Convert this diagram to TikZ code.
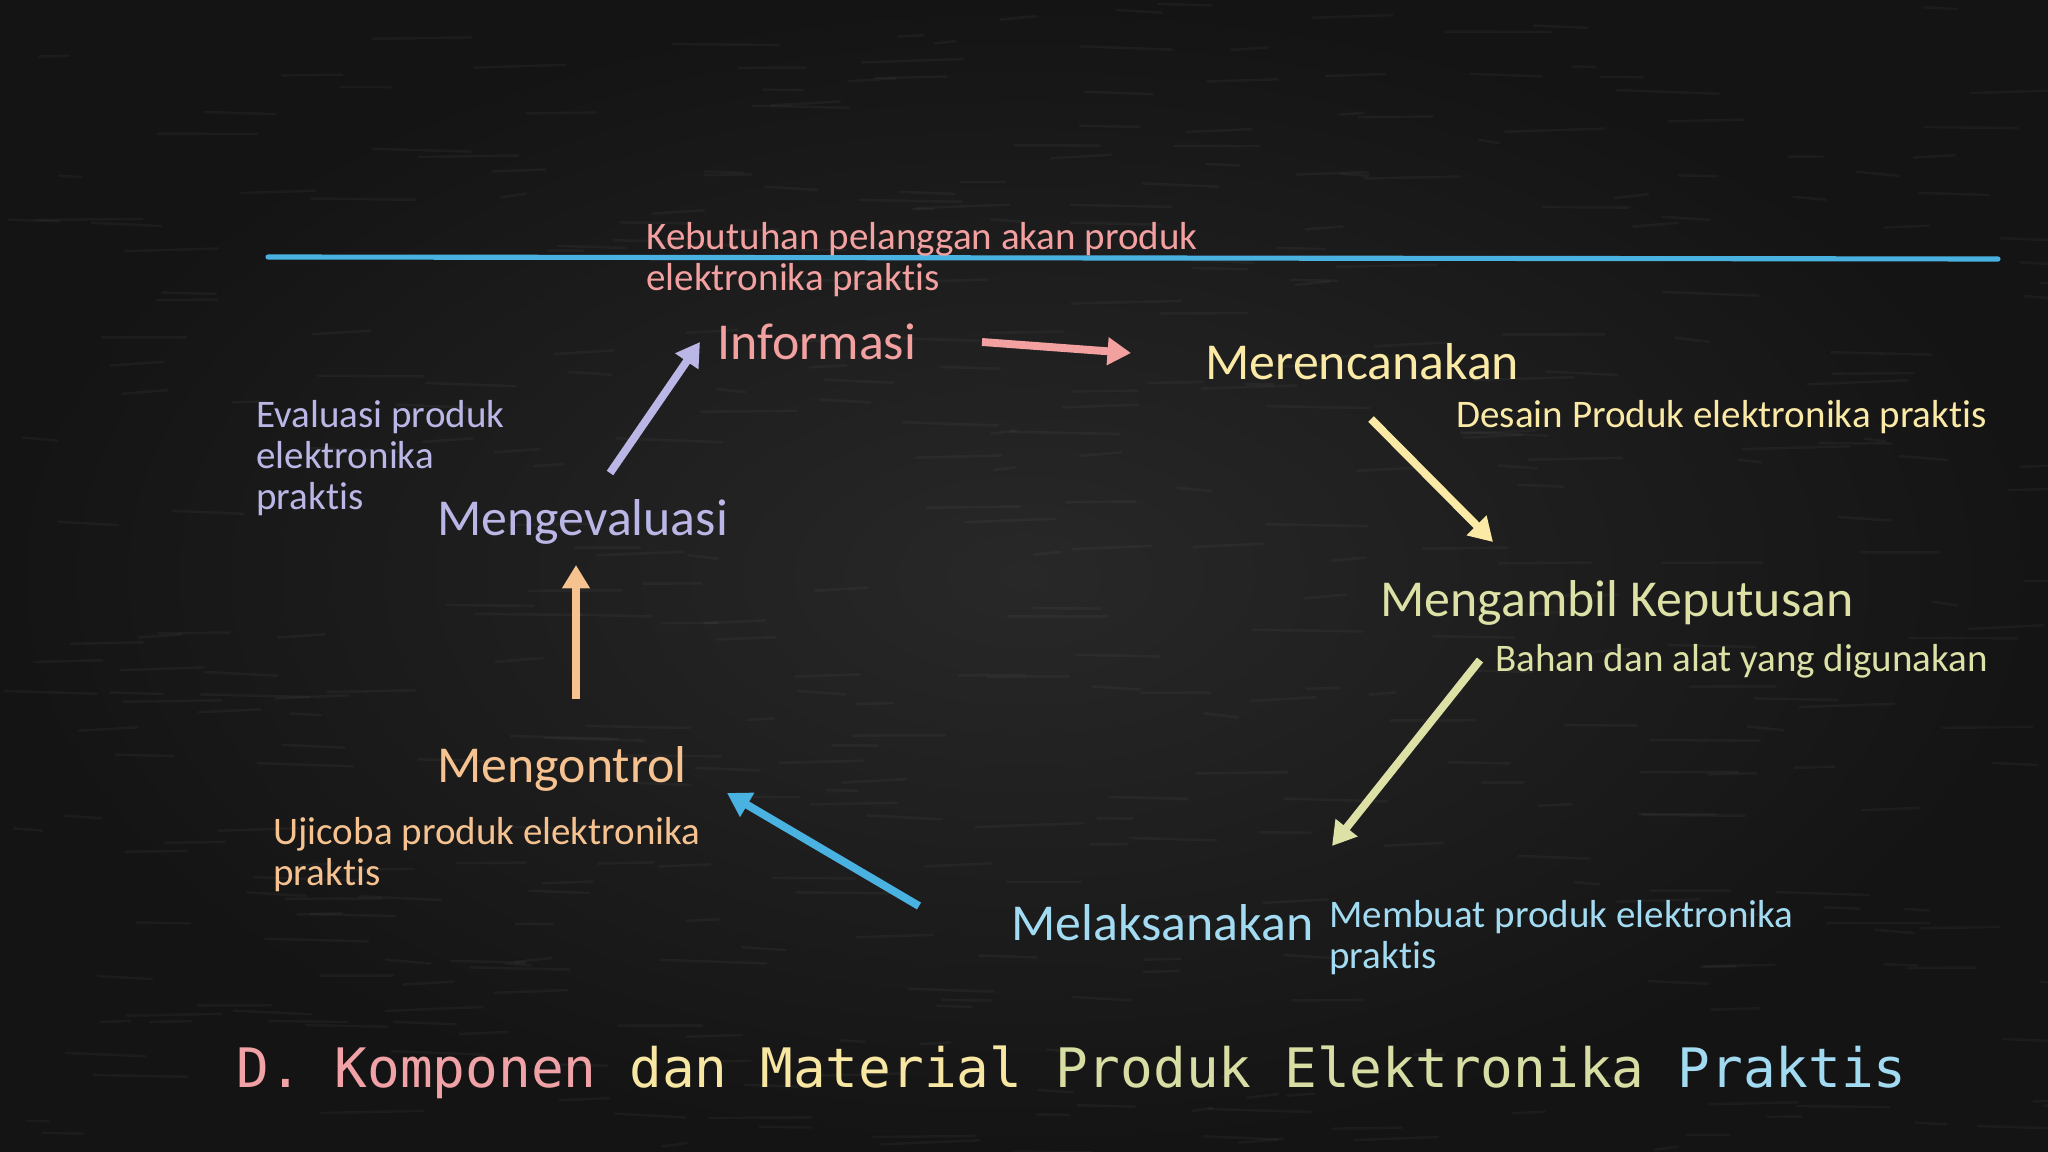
\documentclass[tikz,border=0pt]{standalone}
\usepackage{fontspec}
\setmainfont{Carlito}[Ligatures=NoCommon]
\newfontfamily\titlefont{DejaVu Sans Mono}
\usetikzlibrary{arrows.meta}
\definecolor{bgin}{HTML}{282828}
\definecolor{bgout}{HTML}{141414}
\definecolor{chalkblue}{HTML}{4AB2E0}
\definecolor{cpink}{HTML}{F2A0A0}
\definecolor{cyellow}{HTML}{FBEAA6}
\definecolor{cgreen}{HTML}{DDE1A6}
\definecolor{cblue}{HTML}{A3DCF2}
\definecolor{cpeach}{HTML}{F6C290}
\definecolor{clav}{HTML}{BAB6E6}
\definecolor{tpink}{HTML}{F0A2A6}
\definecolor{tyellow}{HTML}{F8E7A2}
\definecolor{tgreen}{HTML}{D8DDA4}
\definecolor{tblue}{HTML}{A2DAF2}
\tikzset{
  big/.style={font=\fontsize{24.3}{29}\selectfont, inner sep=0pt, anchor=west},
  small/.style={font=\fontsize{18.3}{19.2}\selectfont, inner sep=0pt, anchor=west, align=left},
  flow/.style={line width=3.7pt, -{Triangle[length=11pt,width=12.5pt]}},
  chalk/.style={white, opacity=0.035, line width=1.2pt, line cap=round},
}
\begin{document}
\begin{tikzpicture}[x=0.46875pt,y=-0.46875pt]
\useasboundingbox (0,0) rectangle (2048,1152);
\shade[inner color=bgin, outer color=bgout] (0,0) rectangle (2048,1152);
% chalk texture
\pgfmathsetseed{7}
\foreach \i in {1,...,420} {
  \pgfmathsetmacro{\xx}{rnd*2048}
  \pgfmathsetmacro{\yy}{rnd*1152}
  \pgfmathsetmacro{\ll}{20+rnd*90}
  \pgfmathsetmacro{\dd}{(rnd-0.5)*8}
  \draw[chalk] (\xx,\yy) -- ++(\ll,\dd);
}
% chalk line
\draw[chalkblue, line width=2.4pt, line cap=round] (268,257) -- (1998,259);

% texts
\node[small, text=cpink, anchor=north west] (keb) at (646,222) {Kebutuhan pelanggan akan produk\\elektronika praktis};
\node[big, text=cpink] (info) at (717,342) {Informasi};
\node[big, text=cyellow] (mer) at (1205,362) {Merencanakan};
\node[small, text=cyellow] (desain) at (1456,417) {Desain Produk elektronika praktis};
\node[big, text=cgreen] (ambil) at (1380,603) {Mengambil Keputusan};
\node[small, text=cgreen] (bahan) at (1495,661) {Bahan dan alat yang digunakan};
\node[big, text=cblue] (laks) at (1011,923) {Melaksanakan};
\node[small, text=cblue] (buat) at (1329,938) {Membuat produk elektronika\\praktis};
\node[big, text=cpeach] (kontrol) at (437,769) {Mengontrol};
\node[small, text=cpeach] (uji) at (273,855) {Ujicoba produk elektronika\\praktis};
\node[big, text=clav] (eval) at (437,522) {Mengevaluasi};
\node[small, text=clav] (evtxt) at (256,458) {Evaluasi produk\\elektronika\\praktis};

% arrow endpoints
\coordinate (a1s) at (982,342);  \coordinate (a1e) at (1131,353);
\coordinate (a2s) at (1371,419); \coordinate (a2e) at (1493,542);
\coordinate (a3s) at (1480,660); \coordinate (a3e) at (1332,846);
\coordinate (a4s) at (919,906);  \coordinate (a4e) at (727,793);
\coordinate (a5s) at (576,699);  \coordinate (a5e) at (576,565);
\coordinate (a6s) at (610,473);  \coordinate (a6e) at (700,342);

\draw[flow, cpink] (a1s) -- (a1e);
\draw[flow, cyellow] (a2s) -- (a2e);
\draw[flow, cgreen] (a3s) -- (a3e);
\draw[flow, chalkblue] (a4s) -- (a4e);
\draw[flow, cpeach] (a5s) -- (a5e);
\draw[flow, clav] (a6s) -- (a6e);

% title
\node[inner sep=0pt, anchor=west, font=\titlefont\fontsize{25.5}{30}\selectfont] (title) at (236,1072)
 {\textcolor{tpink}{D. Komponen} \textcolor{tyellow}{dan Material} \textcolor{tgreen}{Produk Elektronika} \textcolor{tblue}{Praktis}};
\end{tikzpicture}
\end{document}
